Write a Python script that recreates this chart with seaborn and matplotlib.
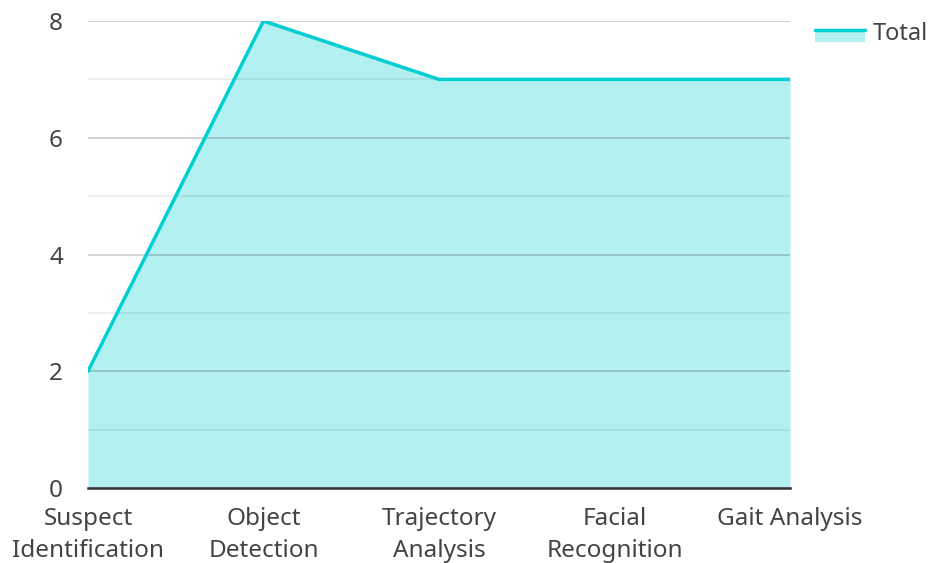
import matplotlib
matplotlib.use("Agg")
import matplotlib.pyplot as plt
import matplotlib.patches as mpatches
import matplotlib.lines as mlines
from matplotlib.legend_handler import HandlerBase
from matplotlib.ticker import MultipleLocator
import seaborn as sns
import pandas as pd

categories = ["Suspect\nIdentification", "Object\nDetection", "Trajectory\nAnalysis",
              "Facial\nRecognition", "Gait Analysis"]
totals = [2, 8, 7, 7, 7]

line_color = "#00CED1"
fill_color = "#00CED1"

sns.set_style("white")
plt.rcParams['font.family'] = ['Noto Sans', 'DejaVu Sans']

df = pd.DataFrame({"pos": range(len(categories)), "Total": totals})

fig = plt.figure(figsize=(9.31, 5.63), dpi=100)
ax = fig.add_axes([0.0945, 0.1332, 0.754, 0.8295])

ax.fill_between(df["pos"], 0, df["Total"], color=fill_color, alpha=0.3, linewidth=0, zorder=1)
sns.lineplot(data=df, x="pos", y="Total", color=line_color, linewidth=2.5, ax=ax, zorder=4)

ax.set_xlim(0, len(categories) - 1)
ax.set_ylim(0, 8)
ax.yaxis.set_major_locator(MultipleLocator(2))
ax.yaxis.set_minor_locator(MultipleLocator(1))
ax.grid(which="major", axis="y", color="#000000", alpha=0.2, linewidth=1.2, zorder=2)
ax.grid(which="minor", axis="y", color="#000000", alpha=0.08, linewidth=1.2, zorder=2)
ax.set_axisbelow(False)

ax.set_xticks(df["pos"])
ax.set_xticklabels(categories, fontsize=17.5, color="#444444", linespacing=1.4)
ax.tick_params(axis="y", labelsize=17.5, labelcolor="#444444", length=0, pad=18)
ax.tick_params(axis="x", length=0, pad=14)
ax.set_xlabel("")
ax.set_ylabel("")

for s in ["top", "right", "left"]:
    ax.spines[s].set_visible(False)
ax.spines["bottom"].set_color("#333333")
ax.spines["bottom"].set_linewidth(1.8)
ax.spines["bottom"].set_zorder(5)


class AreaHandler(HandlerBase):
    def create_artists(self, legend, orig_handle, xdescent, ydescent, width, height, fontsize, trans):
        rect = mpatches.Rectangle((-xdescent, -ydescent - height * 0.15), width, height * 0.75,
                                  facecolor=fill_color, alpha=0.3, linewidth=0, transform=trans)
        ln = mlines.Line2D([-xdescent, -xdescent + width], [-ydescent + height * 0.6] * 2,
                           color=line_color, linewidth=2.5, transform=trans)
        return [rect, ln]


handle = mpatches.Patch(label="Total")
ax.legend(handles=[handle], handler_map={mpatches.Patch: AreaHandler()},
          loc="upper left", bbox_to_anchor=(1.005, 1.044), frameon=False,
          fontsize=17, handlelength=2.15, handletextpad=0.3, labelcolor="#444444")

fig.savefig("out.png", dpi=100)
